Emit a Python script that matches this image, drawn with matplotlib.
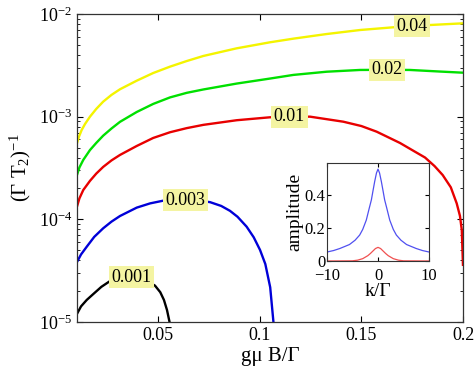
import numpy as np
import matplotlib
matplotlib.use("Agg")
import matplotlib.pyplot as plt
from matplotlib.ticker import LogLocator, NullFormatter, LogFormatterMathtext

plt.rcParams["font.family"] = ["Liberation Serif", "DejaVu Serif"]
plt.rcParams["mathtext.fontset"] = "custom"
plt.rcParams["mathtext.rm"] = "Liberation Serif"
plt.rcParams["mathtext.it"] = "Liberation Serif:italic"
plt.rcParams["mathtext.default"] = "regular"

# ── Main panel: (Gamma T2)^-1 vs g mu B / Gamma ───────────────────────────────
x_004 = [0.0100, 0.0110, 0.0123, 0.0140, 0.0164, 0.0195, 0.0229, 0.0270, 0.0312,
         0.0394, 0.0475, 0.0558, 0.0640, 0.0722, 0.0886, 0.1050, 0.1165, 0.1329,
         0.1493, 0.1657, 0.1838, 0.2000]
y_004 = [5.50e-4, 6.40e-4, 7.41e-4, 8.51e-4, 1.00e-3, 1.19e-3, 1.40e-3, 1.63e-3, 1.85e-3,
         2.24e-3, 2.66e-3, 3.07e-3, 3.48e-3, 3.90e-3, 4.63e-3, 5.30e-3, 5.75e-3, 6.38e-3,
         6.98e-3, 7.42e-3, 7.81e-3, 8.11e-3]

x_002 = [0.0100, 0.0112, 0.0131, 0.0164, 0.0195, 0.0229, 0.0270, 0.0312, 0.0394,
         0.0475, 0.0558, 0.0640, 0.0722, 0.0886, 0.1050, 0.1165, 0.1329, 0.1493,
         0.1624, 0.1739, 0.1887, 0.2000]
y_002 = [2.70e-4, 3.20e-4, 3.79e-4, 4.73e-4, 5.55e-4, 6.53e-4, 7.67e-4, 8.91e-4, 1.11e-3,
         1.33e-3, 1.54e-3, 1.706e-3, 1.84e-3, 2.10e-3, 2.35e-3, 2.55e-3, 2.74e-3, 2.85e-3,
         2.86e-3, 2.85e-3, 2.75e-3, 2.68e-3]

x_001 = [0.0100, 0.0112, 0.0131, 0.0164, 0.0195, 0.0229, 0.0270, 0.0312, 0.0394,
         0.0475, 0.0558, 0.0640, 0.0722, 0.0886, 0.1050, 0.1247, 0.1411, 0.1500,
         0.1575, 0.1690, 0.1760, 0.1813, 0.1860, 0.1900, 0.1940, 0.1969, 0.1985,
         0.1994, 0.2000]
y_001 = [1.33e-4, 1.60e-4, 1.93e-4, 2.37e-4, 2.79e-4, 3.24e-4, 3.75e-4, 4.24e-4, 5.18e-4,
         6.20e-4, 7.05e-4, 7.73e-4, 8.32e-4, 9.23e-4, 9.86e-4, 1.00e-3, 8.93e-4, 8.10e-4,
         7.14e-4, 5.54e-4, 4.60e-4, 4.00e-4, 3.30e-4, 2.70e-4, 2.05e-4, 1.43e-4, 1.08e-4,
         7.87e-5, 3.51e-5]

x_0003 = [0.0100, 0.0120, 0.0148, 0.0185, 0.0229, 0.0270, 0.0312, 0.0394, 0.0460,
          0.0525, 0.0580, 0.0640, 0.0700, 0.0755, 0.0810, 0.0853, 0.0890, 0.0935,
          0.0970, 0.1001, 0.1027, 0.1051, 0.1068]
y_0003 = [3.84e-5, 4.55e-5, 5.41e-5, 6.75e-5, 8.18e-5, 9.50e-5, 1.078e-4, 1.30e-4, 1.43e-4,
          1.52e-4, 1.54e-4, 1.54e-4, 1.52e-4, 1.47e-4, 1.35e-4, 1.21e-4, 1.06e-4, 8.48e-5,
          6.68e-5, 5.03e-5, 3.67e-5, 2.18e-5, 9.5e-6]

x_0001 = [0.0100, 0.0120, 0.0148, 0.0180, 0.0220, 0.0262, 0.0310, 0.0366, 0.0430,
          0.0484, 0.0510, 0.0528, 0.0543, 0.0558]
y_0001 = [1.20e-5, 1.42e-5, 1.64e-5, 1.87e-5, 2.20e-5, 2.50e-5, 2.69e-5, 2.74e-5, 2.62e-5,
          2.26e-5, 1.95e-5, 1.64e-5, 1.31e-5, 9.5e-6]

curve_x = [x_0001, x_0003, x_001, x_002, x_004]
curve_y = [y_0001, y_0003, y_001, y_002, y_004]
curve_labels = ["0.001", "0.003", "0.01", "0.02", "0.04"]
curve_colors = ["black", "#0000d8", "#e80000", "#00e000", "#f4f400"]
label_x = [0.0369, 0.0635, 0.1146, 0.1625, 0.1749]

# ── Inset: amplitude vs k / Gamma ─────────────────────────────────────────────
k_blue = [-10, -8.7, -7.5, -5.6, -4.5, -3.6, -3.0, -2.3, -1.7, -1.3, -1.0, -0.65, -0.3, 0,
          0.3, 0.65, 1.0, 1.3, 1.7, 2.3, 3.0, 3.6, 4.5, 5.6, 7.5, 8.7, 10]
amp_blue = [0.054, 0.063, 0.075, 0.099, 0.125, 0.156, 0.19, 0.246, 0.32, 0.368, 0.42, 0.479, 0.53, 0.553,
            0.53, 0.479, 0.42, 0.368, 0.32, 0.246, 0.19, 0.156, 0.125, 0.099, 0.075, 0.063, 0.054]

k_red = [-10, -5, -4, -3, -2, -1.5, -1, -0.5, 0, 0.5, 1, 1.5, 2, 3, 4, 5, 10]
amp_red = [0.0, 0.001, 0.005, 0.014, 0.032, 0.045, 0.060, 0.075, 0.082,
           0.075, 0.060, 0.045, 0.032, 0.014, 0.005, 0.001, 0.0]

fig = plt.figure(figsize=(4.74, 3.68), dpi=100)
ax = fig.add_axes([0.1624, 0.125, 0.8144, 0.837])

for xs, ys, col, lab, lx in zip(curve_x, curve_y, curve_colors, curve_labels, label_x):
    ax.plot(xs, ys, color=col, lw=1.7, solid_capstyle="butt", solid_joinstyle="round")
    ly = 10 ** np.interp(lx, xs, np.log10(ys))
    ax.text(lx, ly, lab, ha="center", va="center", fontsize=13, zorder=5,
            bbox=dict(boxstyle="square,pad=0.15", fc="#f4f4a2", ec="none"))

ax.set_yscale("log")
ax.set_xlim(0.01, 0.2)
ax.set_ylim(1e-5, 1e-2)
ax.set_xticks([0.05, 0.1, 0.15, 0.2])
ax.set_xticklabels(["0.05", "0.1", "0.15", "0.2"])
ax.yaxis.set_major_locator(LogLocator(base=10, numticks=10))
ax.yaxis.set_major_formatter(LogFormatterMathtext())
ax.yaxis.set_minor_locator(LogLocator(base=10, subs=np.arange(2, 10), numticks=10))
ax.yaxis.set_minor_formatter(NullFormatter())
ax.tick_params(which="both", direction="in", top=True, right=True, labelsize=13)
ax.tick_params(which="major", length=4, width=0.8)
ax.tick_params(which="minor", length=2.5, width=0.6)
ax.set_xlabel("gμ B/Γ", fontsize=15, labelpad=2)
ax.set_ylabel(r"$(\Gamma\ T_2)^{-1}$", fontsize=15, labelpad=4)
for sp in ax.spines.values():
    sp.set_linewidth(0.9)
    sp.set_color("#333333")

# inset
axi = fig.add_axes([0.6899, 0.2908, 0.2152, 0.2663])
axi.plot(k_blue, amp_blue, color="#5050f0", lw=0.9)
axi.plot(k_red, amp_red, color="#f05050", lw=0.9)
axi.set_xlim(-10, 10)
axi.set_ylim(0, 0.59)
axi.set_xticks([-10, 0, 10])
axi.set_yticks([0, 0.2, 0.4])
axi.set_yticklabels(["0", "0.2", "0.4"])
axi.tick_params(direction="in", top=True, right=True, labelsize=12, length=3)
axi.tick_params(axis="x", pad=5)
axi.tick_params(axis="y", pad=1)
axi.set_xlabel("k/Γ", fontsize=14, labelpad=-1)
axi.set_ylabel("amplitude", fontsize=14, labelpad=1)
for sp in axi.spines.values():
    sp.set_linewidth(0.8)
    sp.set_color("#333333")

fig.savefig("out.png", dpi=100)
